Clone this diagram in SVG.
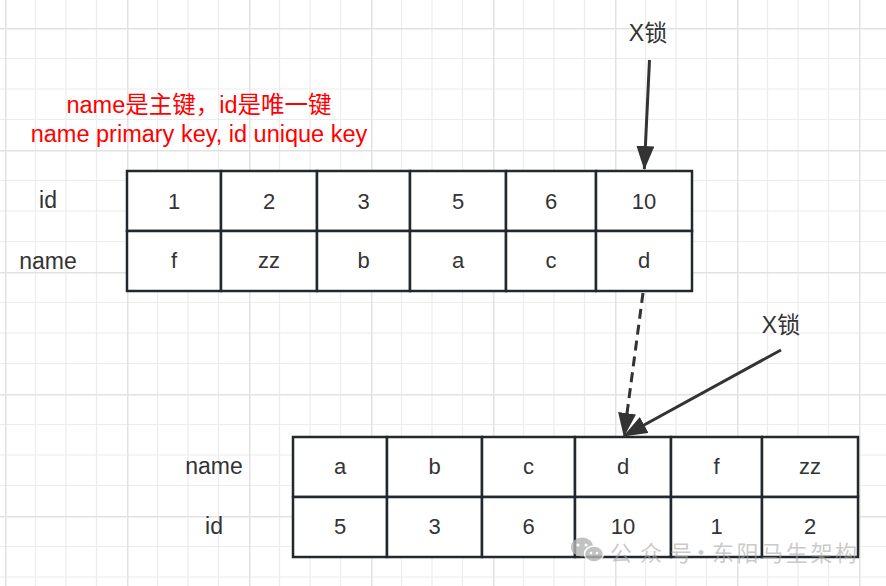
<svg xmlns="http://www.w3.org/2000/svg" width="886" height="586" viewBox="0 0 886 586">
<style>
.cell{fill:#ffffff;stroke:#22282d;stroke-width:2.5}
.t{font-family:"Liberation Sans",Arial,"Noto Sans CJK SC",sans-serif;font-size:22px;fill:#333333;text-anchor:middle}
.lbl{font-family:"Liberation Sans",Arial,"Noto Sans CJK SC",sans-serif;font-size:23px;fill:#333333;text-anchor:middle}
.red{font-family:"Liberation Sans",Arial,"Noto Sans CJK SC",sans-serif;font-size:23.5px;fill:#ff0000;text-anchor:middle}
.edge{fill:none;stroke:#333333;stroke-width:3}
.wm{font-family:"Noto Sans CJK SC",sans-serif;font-size:22px;fill:#a8a8a8;fill-opacity:0.75}
</style>
<defs>
<pattern id="grid" patternUnits="userSpaceOnUse" x="5" y="28" width="122" height="122">
<rect width="122" height="122" fill="#ffffff"/>
<path d="M30.5,0V122M61,0V122M91.5,0V122M0,30.5H122M0,61H122M0,91.5H122" stroke="#ececec" stroke-width="1.2" fill="none"/>
<path d="M0.75,0V122M0,0.75H122" stroke="#e2e2e2" stroke-width="1.5" fill="none"/>
</pattern>
<marker id="arr" markerUnits="userSpaceOnUse" markerWidth="24" markerHeight="18" refX="23" refY="9" orient="auto" viewBox="0 0 24 18">
<path d="M0,0 L24,9 L0,18 z" fill="#333333"/>
</marker>
</defs>
<rect x="0" y="0" width="886" height="586" fill="url(#grid)"/>

<g id="note">
<text class="red" x="199" y="113">name是主键，id是唯一键</text>
<text class="red" x="199" y="142">name primary key, id unique key</text>
</g>

<g id="label-top-id"><text class="lbl" x="48" y="208">id</text></g>
<g id="label-top-name"><text class="lbl" x="48" y="269">name</text></g>
<g id="label-bottom-name"><text class="lbl" x="214" y="474">name</text></g>
<g id="label-bottom-id"><text class="lbl" x="214" y="534">id</text></g>

<g id="lock-label-1"><text class="lbl" x="648" y="41">X锁</text></g>
<g id="lock-label-2"><text class="lbl" x="781" y="333">X锁</text></g>

<g id="primary-index">
<g id="p1"><rect class="cell" x="127" y="171" width="94" height="60"/><text class="t" x="174" y="209">1</text></g>
<g id="p2"><rect class="cell" x="221" y="171" width="96" height="60"/><text class="t" x="269" y="209">2</text></g>
<g id="p3"><rect class="cell" x="317" y="171" width="93" height="60"/><text class="t" x="363.5" y="209">3</text></g>
<g id="p5"><rect class="cell" x="410" y="171" width="96" height="60"/><text class="t" x="458" y="209">5</text></g>
<g id="p6"><rect class="cell" x="506" y="171" width="90" height="60"/><text class="t" x="551" y="209">6</text></g>
<g id="p10"><rect class="cell" x="596" y="171" width="96" height="60"/><text class="t" x="644" y="209">10</text></g>
<g id="pf"><rect class="cell" x="127" y="231" width="94" height="60"/><text class="t" x="174" y="268">f</text></g>
<g id="pzz"><rect class="cell" x="221" y="231" width="96" height="60"/><text class="t" x="269" y="268">zz</text></g>
<g id="pb"><rect class="cell" x="317" y="231" width="93" height="60"/><text class="t" x="363.5" y="268">b</text></g>
<g id="pa"><rect class="cell" x="410" y="231" width="96" height="60"/><text class="t" x="458" y="268">a</text></g>
<g id="pc"><rect class="cell" x="506" y="231" width="90" height="60"/><text class="t" x="551" y="268">c</text></g>
<g id="pd"><rect class="cell" x="596" y="231" width="96" height="60"/><text class="t" x="644" y="268">d</text></g>
</g>

<g id="unique-index">
<g id="ua"><rect class="cell" x="293" y="437" width="94" height="60"/><text class="t" x="340" y="474">a</text></g>
<g id="ub"><rect class="cell" x="387" y="437" width="95" height="60"/><text class="t" x="434.5" y="474">b</text></g>
<g id="uc"><rect class="cell" x="482" y="437" width="93" height="60"/><text class="t" x="528.5" y="474">c</text></g>
<g id="ud"><rect class="cell" x="575" y="437" width="96" height="60"/><text class="t" x="623" y="474">d</text></g>
<g id="uf"><rect class="cell" x="671" y="437" width="91" height="60"/><text class="t" x="716.5" y="474">f</text></g>
<g id="uzz"><rect class="cell" x="762" y="437" width="96" height="60"/><text class="t" x="810" y="474">zz</text></g>
<g id="u5"><rect class="cell" x="293" y="497" width="94" height="60"/><text class="t" x="340" y="534">5</text></g>
<g id="u3"><rect class="cell" x="387" y="497" width="95" height="60"/><text class="t" x="434.5" y="534">3</text></g>
<g id="u6"><rect class="cell" x="482" y="497" width="93" height="60"/><text class="t" x="528.5" y="534">6</text></g>
<g id="u10"><rect class="cell" x="575" y="497" width="96" height="60"/><text class="t" x="623" y="534">10</text></g>
<g id="u1"><rect class="cell" x="671" y="497" width="91" height="60"/><text class="t" x="716.5" y="534">1</text></g>
<g id="u2"><rect class="cell" x="762" y="497" width="96" height="60"/><text class="t" x="810" y="534">2</text></g>
</g>

<g id="connectors">
<line class="edge" x1="649.5" y1="60" x2="644.3" y2="169" marker-end="url(#arr)"/>
<line class="edge" x1="643" y1="293" x2="624" y2="436" stroke-dasharray="10 6" marker-end="url(#arr)"/>
<line class="edge" x1="781" y1="350" x2="624" y2="436" marker-end="url(#arr)"/>
</g>

<g id="watermark" opacity="0.8">
<ellipse cx="582" cy="547" rx="11" ry="9.5" fill="#b4b4b4"/>
<ellipse cx="594" cy="554" rx="9.5" ry="8" fill="#b4b4b4" stroke="#ffffff" stroke-width="1.5"/>
<circle cx="578" cy="545" r="1.6" fill="#ffffff"/>
<circle cx="586" cy="545" r="1.6" fill="#ffffff"/>
<circle cx="591" cy="553" r="1.3" fill="#ffffff"/>
<circle cx="597" cy="553" r="1.3" fill="#ffffff"/>
<text class="wm" x="610" y="561" textLength="82">公众号</text>
<text class="wm" x="701" y="560" text-anchor="middle">·</text>
<text class="wm" x="857" y="561" text-anchor="end" textLength="145">东阳马生架构</text>
</g>
</svg>
